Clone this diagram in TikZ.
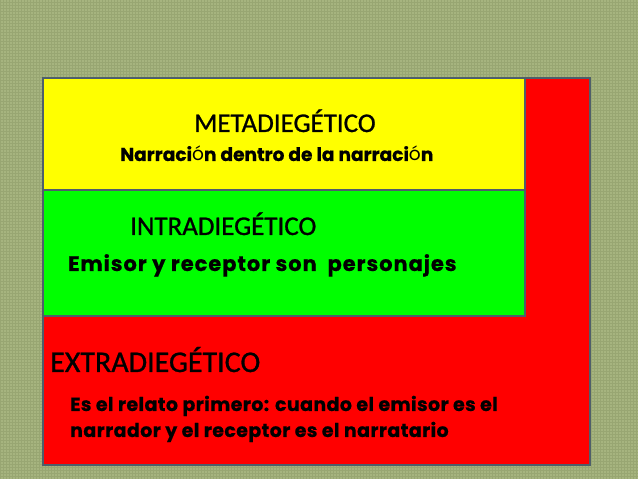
\documentclass[tikz,border=0pt]{standalone}
\usepackage{fontspec}
\newfontfamily\headfont{Carlito}[FakeBold=0.9]
\newfontfamily\bodyfont{Poppins}[BoldFeatures={FakeBold=0.6}]
\definecolor{burlap}{HTML}{A6B47F}
\definecolor{burlapdark}{HTML}{6F7F4C}
\definecolor{frame}{HTML}{4E5F6A}
\definecolor{boxyellow}{HTML}{FFFF00}
\definecolor{boxgreen}{HTML}{00FF00}
\definecolor{boxred}{HTML}{FF0000}
\newcommand{\oac}{{\fontseries{m}\selectfont ó}}

\begin{document}
\begin{tikzpicture}[x=1pt, y=1pt,
                box/.style={draw=frame, line width=1.5pt},
                head/.style={font=\headfont\fontsize{27}{30}\selectfont, inner sep=0, anchor=base west},
                body/.style={inner sep=0, anchor=base west}]
            % fondo
            \fill [burlap] (0,0) rectangle (638,479);
            \useasboundingbox (0,0) rectangle (638,479);
            \draw [burlapdark, line width=0.6pt, opacity=0.25] (0,0) grid [step=3pt] (638,479);

            % niveles
            \draw [box, fill=boxred]    (43,14)  rectangle (590,401);
            \draw [box, fill=boxyellow] (43,289) rectangle (525,401);
            \draw [box, fill=boxgreen]  (43,163) rectangle (525,289);

            \node [head, anchor=base] (meta) at (285,347) {METADIEGÉTICO};
            \node [body, font=\bodyfont\bfseries\fontsize{18.6}{25}\selectfont] (metatxt) at (120,318)
                {Narraci\oac n dentro de la narraci\oac n};

            \node [head] (intra) at (130,244) {INTRADIEGÉTICO};
            \node [body, font=\bodyfont\bfseries\fontsize{21}{25}\selectfont\addfontfeature{LetterSpace=4.5}] (intratxt) at (68,208)
                {Emisor y receptor son \ personajes};

            \node [head, font=\headfont\fontsize{30}{32}\selectfont] (extra) at (50,107) {EXTRADIEGÉTICO};
            \node [body, align=left, font=\bodyfont\bfseries\fontsize{19}{26}\selectfont\addfontfeature{LetterSpace=2}] (extratxt) at (70,42)
                {Es el relato primero: cuando el emisor es el\\narrador y el receptor es el narratario};
        \end{tikzpicture}
\end{document}
